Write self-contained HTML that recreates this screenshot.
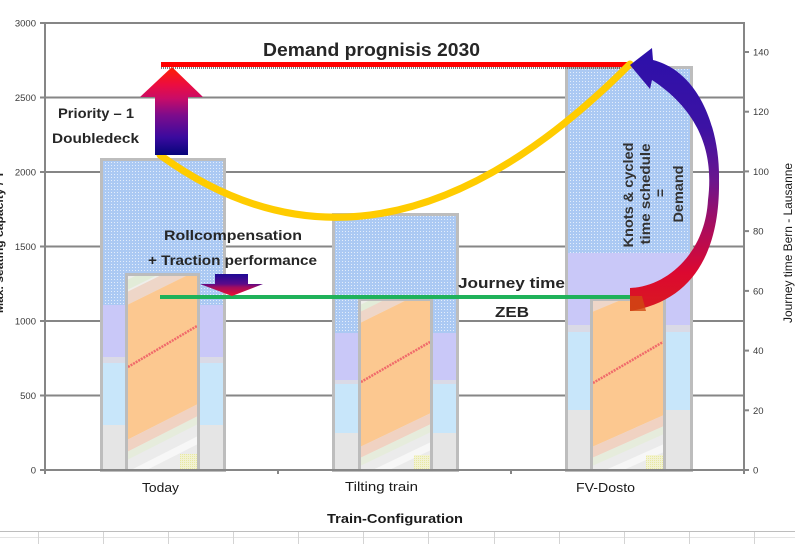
<!DOCTYPE html>
<html>
<head>
<meta charset="utf-8">
<style>
html,body{margin:0;padding:0;background:#fff;}
svg{display:block;}
text{font-family:"Liberation Sans",Arial,sans-serif;}
</style>
</head>
<body>
<svg width="795" height="544" viewBox="0 0 795 544" xmlns="http://www.w3.org/2000/svg">
<defs>
  <pattern id="dots" width="3" height="3" patternUnits="userSpaceOnUse">
    <rect width="3" height="3" fill="#abc9f3"/>
    <rect width="1" height="1" fill="#e3edfb"/>
  </pattern>
  <pattern id="ydots" width="2" height="2" patternUnits="userSpaceOnUse">
    <rect width="2" height="2" fill="#f3f3d0"/>
    <rect width="1" height="1" fill="#e8e89a"/>
  </pattern>
  <linearGradient id="upg" gradientUnits="userSpaceOnUse" x1="0" y1="67" x2="0" y2="155">
    <stop offset="0" stop-color="#ff2000"/>
    <stop offset="0.2" stop-color="#ec0d40"/>
    <stop offset="0.36" stop-color="#c80c68"/>
    <stop offset="0.55" stop-color="#7c0c8c"/>
    <stop offset="0.8" stop-color="#3a0a9e"/>
    <stop offset="1" stop-color="#05057a"/>
  </linearGradient>
  <linearGradient id="dng" gradientUnits="userSpaceOnUse" x1="0" y1="274" x2="0" y2="296">
    <stop offset="0" stop-color="#1e0a96"/>
    <stop offset="0.45" stop-color="#5a0a8a"/>
    <stop offset="0.6" stop-color="#a00c60"/>
    <stop offset="1" stop-color="#f01030"/>
  </linearGradient>
  <linearGradient id="crg" gradientUnits="userSpaceOnUse" x1="0" y1="48" x2="0" y2="312">
    <stop offset="0" stop-color="#2c10aa"/>
    <stop offset="0.3" stop-color="#3c12a4"/>
    <stop offset="0.5" stop-color="#6a168e"/>
    <stop offset="0.7" stop-color="#b00c58"/>
    <stop offset="0.85" stop-color="#dc0830"/>
    <stop offset="1" stop-color="#d81a20"/>
  </linearGradient>
  <clipPath id="ci1"><rect x="127" y="275" width="71" height="195"/></clipPath>
  <clipPath id="ci2"><rect x="360" y="300" width="71" height="170"/></clipPath>
  <clipPath id="ci3"><rect x="592" y="300" width="72" height="170"/></clipPath>
</defs>

<rect width="795" height="544" fill="#fff"/>

<!-- gridlines -->
<g stroke="#868686" stroke-width="2">
  <line x1="45" y1="23" x2="744" y2="23"/>
  <line x1="45" y1="97.5" x2="744" y2="97.5"/>
  <line x1="45" y1="172" x2="744" y2="172"/>
  <line x1="45" y1="246.5" x2="744" y2="246.5"/>
  <line x1="45" y1="321" x2="744" y2="321"/>
  <line x1="45" y1="395.5" x2="744" y2="395.5"/>
</g>

<!-- Outer bars -->
<g>
  <rect x="100" y="158" width="126" height="147" fill="url(#dots)"/>
  <rect x="100" y="305" width="126" height="52" fill="#c9c8f8"/>
  <rect x="100" y="357" width="126" height="6" fill="#dadae6"/>
  <rect x="100" y="363" width="126" height="62" fill="#c8e6fa"/>
  <rect x="100" y="425" width="126" height="45" fill="#e5e5e5"/>
  <rect x="101.5" y="159.5" width="123" height="311" fill="none" stroke="#bdbdbd" stroke-width="3"/>
</g>
<g>
  <rect x="332" y="213" width="127" height="120" fill="url(#dots)"/>
  <rect x="332" y="333" width="127" height="47" fill="#c9c8f8"/>
  <rect x="332" y="380" width="127" height="4" fill="#dadae6"/>
  <rect x="332" y="384" width="127" height="49" fill="#c8e6fa"/>
  <rect x="332" y="433" width="127" height="37" fill="#e5e5e5"/>
  <rect x="333.5" y="214.5" width="124" height="256" fill="none" stroke="#bdbdbd" stroke-width="3"/>
</g>
<g>
  <rect x="565" y="66" width="128" height="187" fill="url(#dots)"/>
  <rect x="565" y="253" width="128" height="72" fill="#c9c8f8"/>
  <rect x="565" y="325" width="128" height="7" fill="#dadae6"/>
  <rect x="565" y="332" width="128" height="78" fill="#c8e6fa"/>
  <rect x="565" y="410" width="128" height="60" fill="#e5e5e5"/>
  <rect x="566.5" y="67.5" width="125" height="403" fill="none" stroke="#bdbdbd" stroke-width="3"/>
</g>

<!-- Inner bars -->
<g clip-path="url(#ci1)">
  <rect x="127" y="275" width="71" height="195" fill="#ebebeb"/>
  <polygon points="127,270 198,235 198,270 127,305" fill="#eeeeea"/>
  <polygon points="127,280 198,245 198,255 127,290" fill="#e2ecd8"/>
  <polygon points="127,292 198,257 198,270 127,305" fill="#eed6c8"/>
  <polygon points="127,305 198,270 198,404 127,440" fill="#fcc890"/>
  <polygon points="127,440 198,404 198,416 127,452" fill="#f0d2c2"/>
  <polygon points="127,452 198,416 198,424 127,460" fill="#e6ecdc"/>
  <polygon points="127,472 198,436 198,444 127,480" fill="#f7f7f7"/>
  <rect x="180" y="454" width="18" height="16" fill="url(#ydots)" opacity="0.9"/>
  <line x1="128" y1="367" x2="197" y2="326" stroke="#f06a6a" stroke-width="2.5" stroke-dasharray="2,1"/>
</g>
<rect x="126.5" y="274.5" width="72" height="196" fill="none" stroke="#bcbcbc" stroke-width="3"/>

<g clip-path="url(#ci2)">
  <rect x="360" y="300" width="71" height="170" fill="#ebebeb"/>
  <polygon points="360,300 431,300 431,288 360,323" fill="#eeeeea"/>
  <polygon points="360,305 431,270 431,280 360,315" fill="#e2ecd8"/>
  <polygon points="360,312 431,277 431,288 360,323" fill="#eed6c8"/>
  <polygon points="360,323 431,288 431,413 360,447" fill="#fcc890"/>
  <polygon points="360,447 431,413 431,424 360,458" fill="#f0d2c2"/>
  <polygon points="360,458 431,424 431,432 360,466" fill="#e6ecdc"/>
  <polygon points="360,476 431,442 431,450 360,484" fill="#f7f7f7"/>
  <rect x="414" y="455" width="17" height="15" fill="url(#ydots)" opacity="0.9"/>
  <line x1="361" y1="382" x2="430" y2="342" stroke="#f06a6a" stroke-width="2.5" stroke-dasharray="2,1"/>
</g>
<rect x="359.5" y="299.5" width="72" height="171" fill="none" stroke="#bcbcbc" stroke-width="3"/>

<g clip-path="url(#ci3)">
  <rect x="592" y="300" width="72" height="170" fill="#ebebeb"/>
  <polygon points="592,300 664,300 664,280 592,310" fill="#eeeeea"/>
  <polygon points="592,293 664,263 664,273 592,303" fill="#e2ecd8"/>
  <polygon points="592,300 664,270 664,282 592,312" fill="#eed6c8"/>
  <polygon points="592,312 664,282 664,415 592,447" fill="#fcc890"/>
  <polygon points="592,447 664,415 664,426 592,458" fill="#f0d2c2"/>
  <polygon points="592,458 664,426 664,434 592,466" fill="#e6ecdc"/>
  <polygon points="592,476 664,444 664,452 592,484" fill="#f7f7f7"/>
  <rect x="646" y="455" width="18" height="15" fill="url(#ydots)" opacity="0.9"/>
  <line x1="593" y1="383" x2="663" y2="342" stroke="#f06a6a" stroke-width="2.5" stroke-dasharray="2,1"/>
</g>
<rect x="591.5" y="299.5" width="73" height="171" fill="none" stroke="#bcbcbc" stroke-width="3"/>

<!-- axes -->
<g stroke="#868686" stroke-width="2">
  <line x1="45" y1="22" x2="45" y2="474"/>
  <line x1="744" y1="22" x2="744" y2="474"/>
  <line x1="44" y1="470" x2="745" y2="470"/>
  <line x1="40" y1="23" x2="45" y2="23"/>
  <line x1="40" y1="97.5" x2="45" y2="97.5"/>
  <line x1="40" y1="172" x2="45" y2="172"/>
  <line x1="40" y1="246.5" x2="45" y2="246.5"/>
  <line x1="40" y1="321" x2="45" y2="321"/>
  <line x1="40" y1="395.5" x2="45" y2="395.5"/>
  <line x1="40" y1="470" x2="45" y2="470"/>
  <line x1="744" y1="52" x2="749" y2="52"/>
  <line x1="744" y1="111.7" x2="749" y2="111.7"/>
  <line x1="744" y1="171.4" x2="749" y2="171.4"/>
  <line x1="744" y1="231.1" x2="749" y2="231.1"/>
  <line x1="744" y1="290.9" x2="749" y2="290.9"/>
  <line x1="744" y1="350.6" x2="749" y2="350.6"/>
  <line x1="744" y1="410.3" x2="749" y2="410.3"/>
  <line x1="744" y1="470" x2="749" y2="470"/>
  <line x1="278" y1="470" x2="278" y2="474"/>
  <line x1="511" y1="470" x2="511" y2="474"/>
</g>

<g font-size="9.5" fill="#3a3a3a" text-anchor="end">
  <text x="36" y="26.5">3000</text>
  <text x="36" y="101">2500</text>
  <text x="36" y="175.5">2000</text>
  <text x="36" y="250">1500</text>
  <text x="36" y="324.5">1000</text>
  <text x="36" y="399">500</text>
  <text x="36" y="473.5">0</text>
</g>
<g font-size="9.5" fill="#3a3a3a">
  <text x="753" y="55.5">140</text>
  <text x="753" y="115">120</text>
  <text x="753" y="175">100</text>
  <text x="753" y="234.5">80</text>
  <text x="753" y="294.5">60</text>
  <text x="753" y="354">40</text>
  <text x="753" y="414">20</text>
  <text x="753" y="473.5">0</text>
</g>

<text transform="translate(3,242) rotate(-90)" text-anchor="middle" font-size="11" font-weight="bold" fill="#222" textLength="142" lengthAdjust="spacingAndGlyphs">Max. seating capacity / T</text>
<text transform="translate(792,243) rotate(-90)" text-anchor="middle" font-size="12" fill="#1a1a1a" textLength="160" lengthAdjust="spacingAndGlyphs">Journey time Bern - Lausanne</text>

<g font-size="13" fill="#1a1a1a" text-anchor="middle">
  <text x="160.5" y="492" textLength="37" lengthAdjust="spacingAndGlyphs">Today</text>
  <text x="381.5" y="491" textLength="73" lengthAdjust="spacingAndGlyphs">Tilting train</text>
  <text x="605.5" y="492" textLength="59" lengthAdjust="spacingAndGlyphs">FV-Dosto</text>
  <text x="395" y="523" font-weight="bold" textLength="136" lengthAdjust="spacingAndGlyphs">Train-Configuration</text>
</g>

<line x1="0" y1="531.5" x2="795" y2="531.5" stroke="#bdbdbd" stroke-width="1"/>
<line x1="0" y1="537.5" x2="795" y2="537.5" stroke="#e4e4e4" stroke-width="1"/>
<g stroke="#d4d4d4" stroke-width="1">
  <line x1="38.5" y1="532" x2="38.5" y2="544"/>
  <line x1="103.5" y1="532" x2="103.5" y2="544"/>
  <line x1="168.5" y1="532" x2="168.5" y2="544"/>
  <line x1="233.5" y1="532" x2="233.5" y2="544"/>
  <line x1="298.5" y1="532" x2="298.5" y2="544"/>
  <line x1="363.5" y1="532" x2="363.5" y2="544"/>
  <line x1="428.5" y1="532" x2="428.5" y2="544"/>
  <line x1="494.5" y1="532" x2="494.5" y2="544"/>
  <line x1="559.5" y1="532" x2="559.5" y2="544"/>
  <line x1="624.5" y1="532" x2="624.5" y2="544"/>
  <line x1="689.5" y1="532" x2="689.5" y2="544"/>
  <line x1="754.5" y1="532" x2="754.5" y2="544"/>
</g>

<rect x="161" y="62" width="468" height="5" fill="#ff0000"/>
<line x1="161" y1="68" x2="629" y2="68" stroke="#555" stroke-width="1.5" stroke-dasharray="1,1"/>

<path d="M160,155 Q380,315 630,64" fill="none" stroke="#ffcc00" stroke-width="7" stroke-linecap="round"/>

<rect x="160" y="295" width="471" height="4" fill="#1fb25a"/>

<polygon points="155,155 188,155 188,97 203,97 172,67 140,97 155,97" fill="url(#upg)"/>

<polygon points="215,274 248,274 248,284 263,284 232,296 200,284 215,284" fill="url(#dng)"/>

<path d="M630,288 C665,287 705,255 708,200 C713,160 705,115 652,80 L650,89 L630,65 L652,48 L653,60 C700,72 720,130 719,180 C720,245 698,300 630,311 Z" fill="url(#crg)"/>
<polygon points="630,296 642,296 646,311 630,311" fill="#d04a12" opacity="0.8"/>

<g font-weight="bold" fill="#262626">
  <text x="263" y="56" font-size="18" textLength="217" lengthAdjust="spacingAndGlyphs">Demand prognisis 2030</text>
  <text x="58" y="118" font-size="14" textLength="76" lengthAdjust="spacingAndGlyphs">Priority – 1</text>
  <text x="52" y="143" font-size="14" textLength="87" lengthAdjust="spacingAndGlyphs">Doubledeck</text>
  <text x="164" y="240" font-size="14" textLength="138" lengthAdjust="spacingAndGlyphs">Rollcompensation</text>
  <text x="148" y="265" font-size="14" textLength="169" lengthAdjust="spacingAndGlyphs">+ Traction performance</text>
  <text x="458" y="288" font-size="15" textLength="107" lengthAdjust="spacingAndGlyphs">Journey time</text>
  <text x="495" y="317" font-size="15" textLength="34" lengthAdjust="spacingAndGlyphs">ZEB</text>
</g>
<g font-weight="bold" fill="#333" font-size="14" text-anchor="middle">
  <text transform="translate(633,195) rotate(-90)" textLength="105" lengthAdjust="spacingAndGlyphs">Knots &amp; cycled</text>
  <text transform="translate(650,194) rotate(-90)" textLength="101" lengthAdjust="spacingAndGlyphs">time schedule</text>
  <text transform="translate(665,193) rotate(-90)">=</text>
  <text transform="translate(683,194) rotate(-90)" textLength="57" lengthAdjust="spacingAndGlyphs">Demand</text>
</g>
</svg>
</body>
</html>
